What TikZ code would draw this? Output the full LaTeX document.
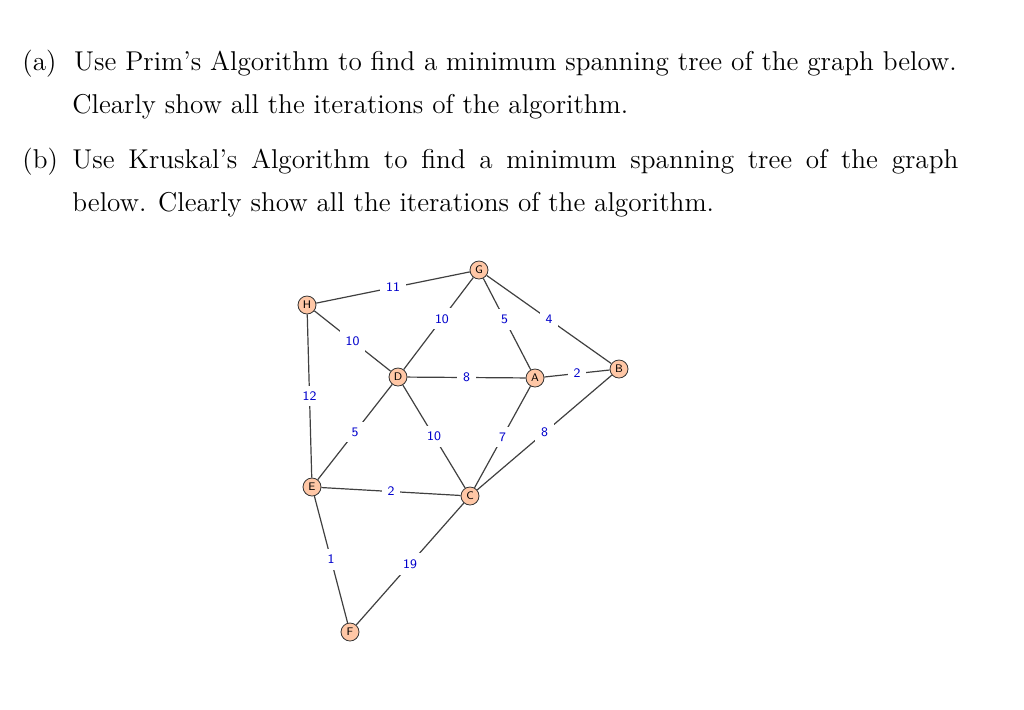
\documentclass[tikz,border=0pt]{standalone}
\begin{document}
\begin{tikzpicture}[x=0.5pt,y=-0.5pt,
  vx/.style={circle,draw=black!80,fill=red!25!orange!35,minimum size=9pt,inner sep=0pt,font=\sffamily\fontsize{5.5}{5.5}\selectfont},
  ed/.style={draw=black!75,line width=0.6pt},
  wl/.style={fill=white,inner sep=3pt,text=blue!80!black,font=\sffamily\fontsize{6.5}{6.5}\selectfont},
  txt/.style={anchor=base west,inner sep=0pt,font=\fontsize{13.6}{15}\selectfont}]
\useasboundingbox (0,0) rectangle (1024,709);
\node[txt] (a1) at (22,70) {(a)\ \ Use Prim's Algorithm to find a minimum spanning tree of the graph below.};
\node[txt] (a2) at (72,113) {Clearly show all the iterations of the algorithm.};
\node[txt] (b0) at (22,168) {(b)};
\node[txt] (b1) at (72,168) {\hbox to 443pt{Use\hfill Kruskal's\hfill Algorithm\hfill to\hfill find\hfill a\hfill minimum\hfill spanning\hfill tree\hfill of\hfill the\hfill graph}};
\node[txt] (b2) at (72,211) {below. Clearly show all the iterations of the algorithm.};
\node[vx] (H) at (307,305) {H};
\node[vx] (G) at (479,270) {G};
\node[vx] (D) at (398,377) {D};
\node[vx] (A) at (535,378) {A};
\node[vx] (B) at (619,369) {B};
\node[vx] (E) at (312,487) {E};
\node[vx] (C) at (470,496) {C};
\node[vx] (F) at (350,632) {F};
\foreach \u/\v/\w/\p in {H/G/11/0.5,G/D/10/0.45,G/A/5/0.45,G/B/4/0.5,H/D/10/0.5,D/A/8/0.5,A/B/2/0.5,H/E/12/0.5,D/E/5/0.5,D/C/10/0.5,A/C/7/0.5,B/C/8/0.5,E/C/2/0.5,E/F/1/0.5,C/F/19/0.5}
  \path[ed] (\u) -- node[wl,pos=\p] {\w} (\v);
\end{tikzpicture}
\end{document}
